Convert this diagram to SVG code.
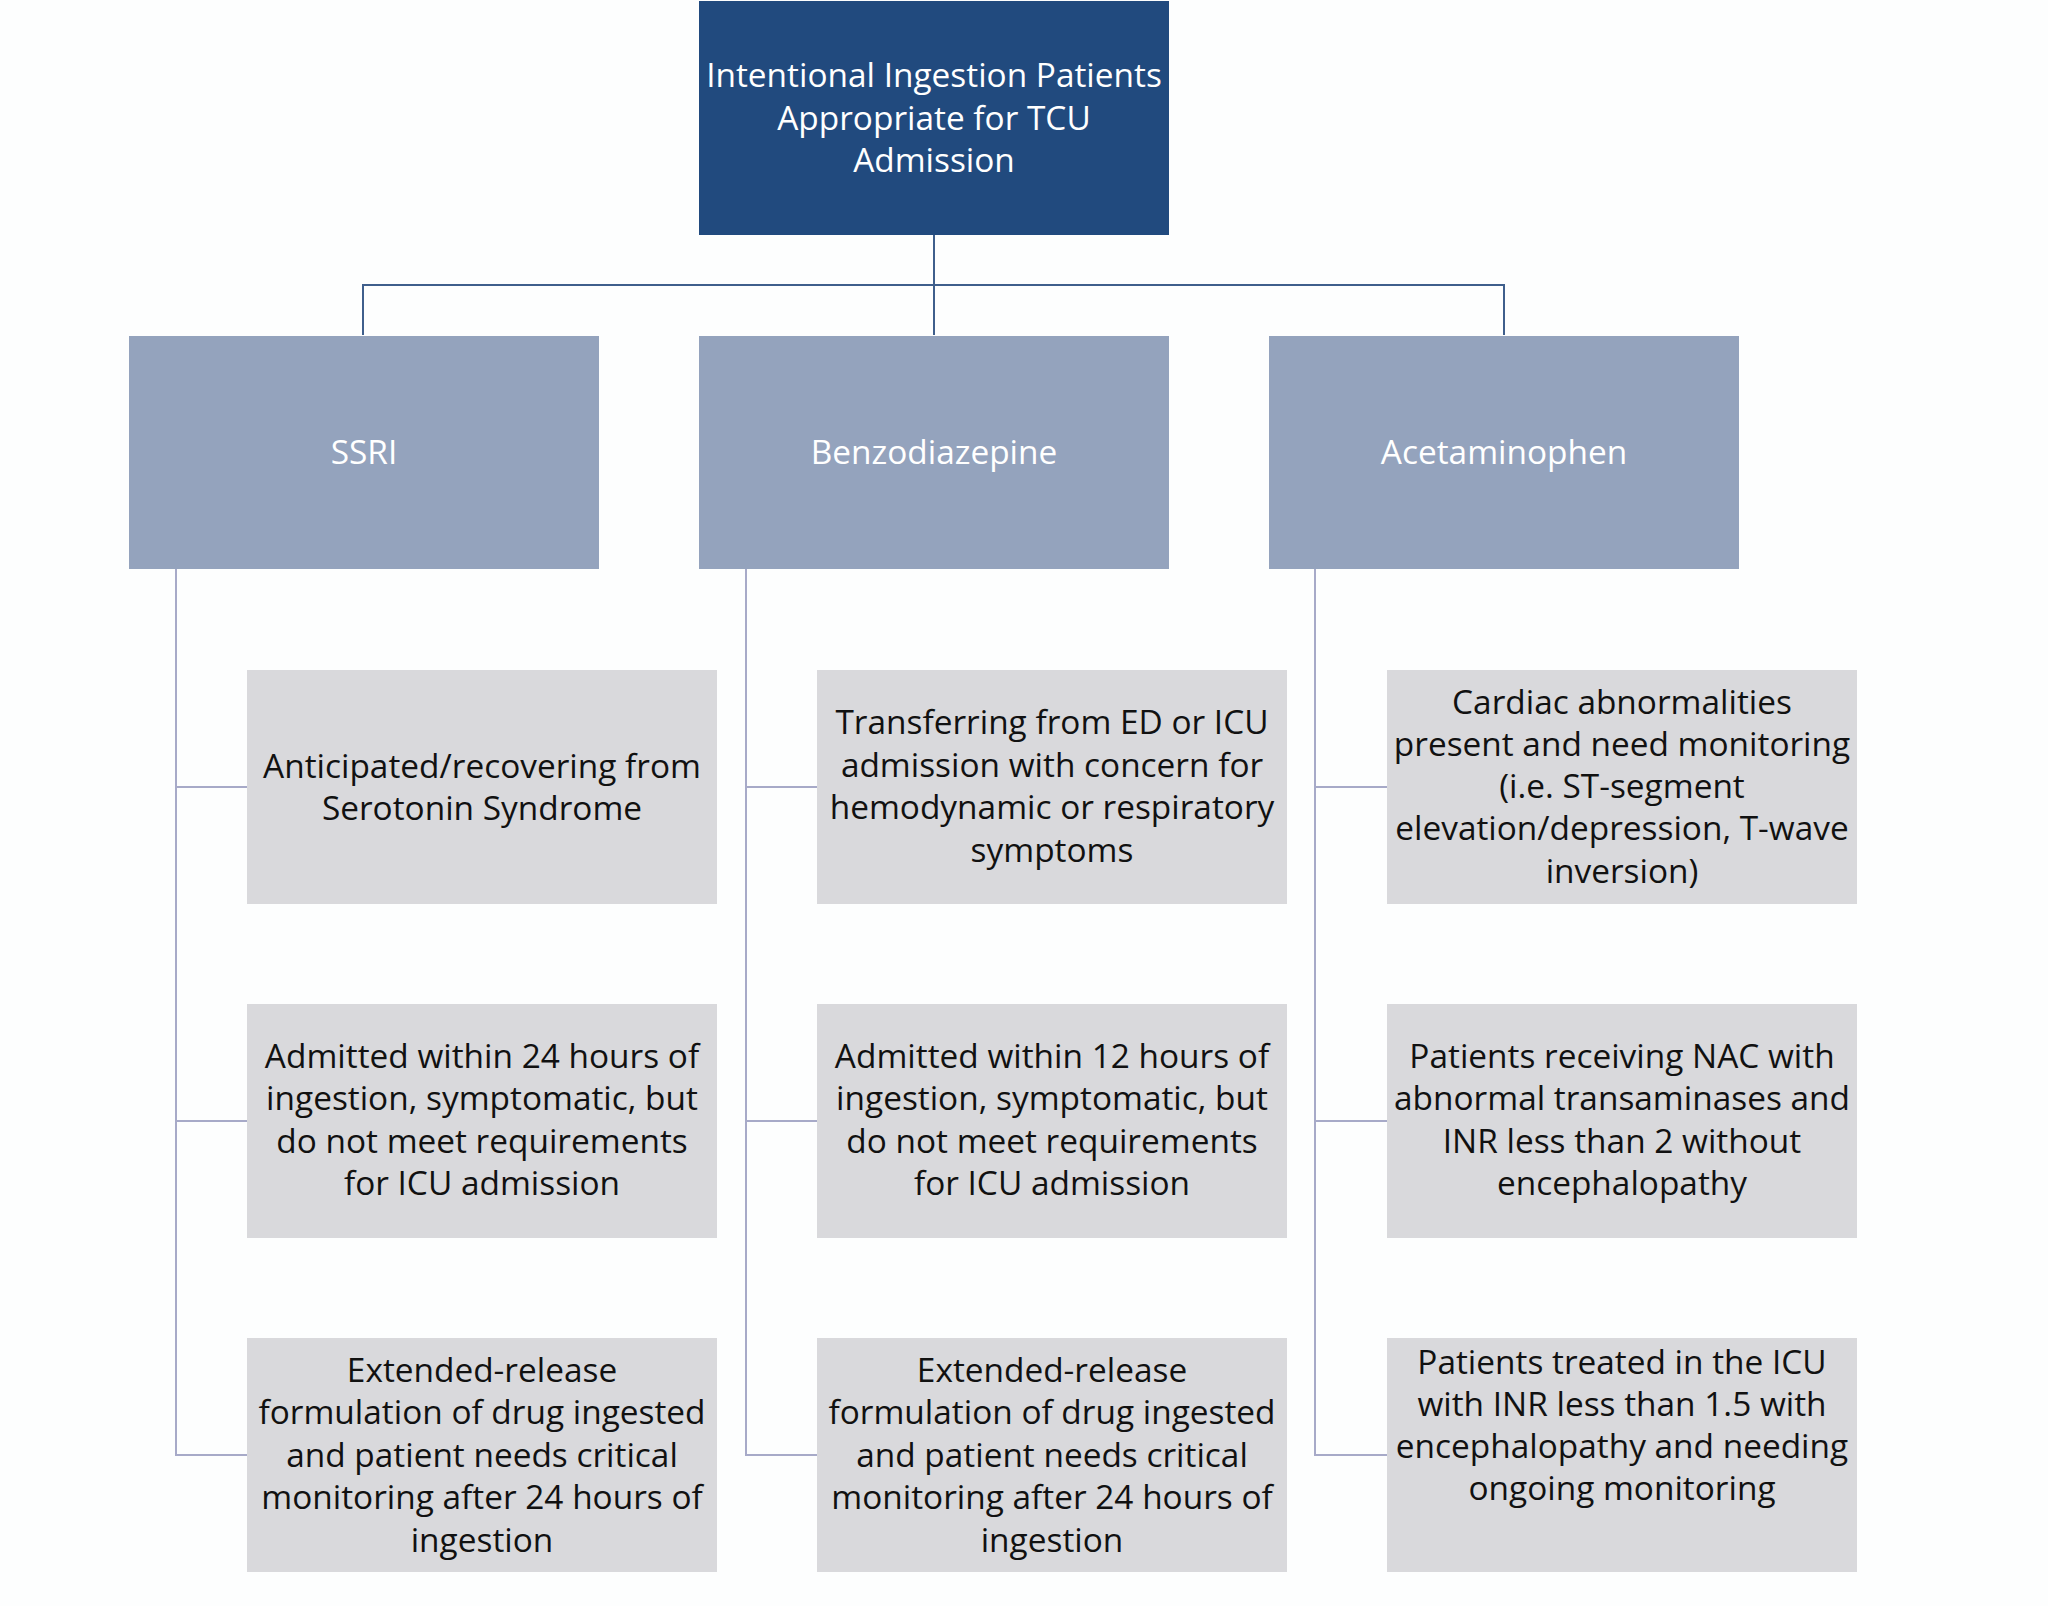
<svg xmlns="http://www.w3.org/2000/svg" width="2048" height="1606" viewBox="0 0 2048 1606">
<style>
.top{fill:#214a7e}
.mid{fill:#94a3bd}
.leaf{fill:#d9d9dc}
text{font-family:"Open Sans","Liberation Sans",sans-serif;font-size:33.4px;text-anchor:middle}
.w{fill:#ffffff}
.k{fill:#111111}
.c1{fill:none;stroke:#3f5f8c;stroke-width:2}
.c2{fill:none;stroke:#a7aac8;stroke-width:2}
</style>
<rect width="2048" height="1606" fill="#fdfefe"/>
<g id="connectors">
<path class="c1" d="M934 235V335M363 335V285H1504V335"/>
<path class="c2" d="M176 569V1455H247M176 787H247M176 1121H247"/>
<path class="c2" d="M746 569V1455H817M746 787H817M746 1121H817"/>
<path class="c2" d="M1315 569V1455H1387M1315 787H1387M1315 1121H1387"/>
</g>
<g id="root">
<rect class="top" x="699" y="1" width="470" height="234"/>
<text class="w" x="934" y="87">Intentional Ingestion Patients</text>
<text class="w" x="934" y="130">Appropriate for TCU</text>
<text class="w" x="934" y="172">Admission</text>
</g>
<g id="ssri">
<rect class="mid" x="129" y="336" width="470" height="233"/>
<text class="w" x="364" y="464">SSRI</text>
</g>
<g id="benzo">
<rect class="mid" x="699" y="336" width="470" height="233"/>
<text class="w" x="934" y="464">Benzodiazepine</text>
</g>
<g id="apap">
<rect class="mid" x="1269" y="336" width="470" height="233"/>
<text class="w" x="1504" y="464">Acetaminophen</text>
</g>
<g id="ssri1">
<rect class="leaf" x="247" y="670" width="470" height="234"/>
<text class="k" x="482" y="778">Anticipated/recovering from</text>
<text class="k" x="482" y="820">Serotonin Syndrome</text>
</g>
<g id="ssri2">
<rect class="leaf" x="247" y="1004" width="470" height="234"/>
<text class="k" x="482" y="1068">Admitted within 24 hours of</text>
<text class="k" x="482" y="1110">ingestion, symptomatic, but</text>
<text class="k" x="482" y="1153">do not meet requirements</text>
<text class="k" x="482" y="1195">for ICU admission</text>
</g>
<g id="ssri3">
<rect class="leaf" x="247" y="1338" width="470" height="234"/>
<text class="k" x="482" y="1382">Extended-release</text>
<text class="k" x="482" y="1424">formulation of drug ingested</text>
<text class="k" x="482" y="1467">and patient needs critical</text>
<text class="k" x="482" y="1509">monitoring after 24 hours of</text>
<text class="k" x="482" y="1552">ingestion</text>
</g>
<g id="benzo1">
<rect class="leaf" x="817" y="670" width="470" height="234"/>
<text class="k" x="1052" y="734">Transferring from ED or ICU</text>
<text class="k" x="1052" y="777">admission with concern for</text>
<text class="k" x="1052" y="819">hemodynamic or respiratory</text>
<text class="k" x="1052" y="862">symptoms</text>
</g>
<g id="benzo2">
<rect class="leaf" x="817" y="1004" width="470" height="234"/>
<text class="k" x="1052" y="1068">Admitted within 12 hours of</text>
<text class="k" x="1052" y="1110">ingestion, symptomatic, but</text>
<text class="k" x="1052" y="1153">do not meet requirements</text>
<text class="k" x="1052" y="1195">for ICU admission</text>
</g>
<g id="benzo3">
<rect class="leaf" x="817" y="1338" width="470" height="234"/>
<text class="k" x="1052" y="1382">Extended-release</text>
<text class="k" x="1052" y="1424">formulation of drug ingested</text>
<text class="k" x="1052" y="1467">and patient needs critical</text>
<text class="k" x="1052" y="1509">monitoring after 24 hours of</text>
<text class="k" x="1052" y="1552">ingestion</text>
</g>
<g id="apap1">
<rect class="leaf" x="1387" y="670" width="470" height="234"/>
<text class="k" x="1622" y="714">Cardiac abnormalities</text>
<text class="k" x="1622" y="756">present and need monitoring</text>
<text class="k" x="1622" y="798">(i.e. ST-segment</text>
<text class="k" x="1622" y="840">elevation/depression, T-wave</text>
<text class="k" x="1622" y="883">inversion)</text>
</g>
<g id="apap2">
<rect class="leaf" x="1387" y="1004" width="470" height="234"/>
<text class="k" x="1622" y="1068">Patients receiving NAC with</text>
<text class="k" x="1622" y="1110">abnormal transaminases and</text>
<text class="k" x="1622" y="1153">INR less than 2 without</text>
<text class="k" x="1622" y="1195">encephalopathy</text>
</g>
<g id="apap3">
<rect class="leaf" x="1387" y="1338" width="470" height="234"/>
<text class="k" x="1622" y="1374">Patients treated in the ICU</text>
<text class="k" x="1622" y="1416">with INR less than 1.5 with</text>
<text class="k" x="1622" y="1458">encephalopathy and needing</text>
<text class="k" x="1622" y="1500">ongoing monitoring</text>
</g>
</svg>
